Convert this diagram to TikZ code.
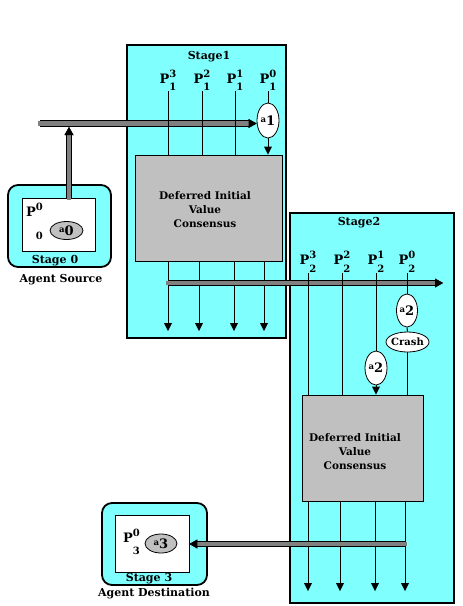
\documentclass[tikz,border=0pt]{standalone}
\usepackage{fontspec}
\setmainfont{DejaVu Serif}
\usetikzlibrary{arrows.meta,shapes.geometric}
\definecolor{cyanbg}{RGB}{128,255,255}
\definecolor{boxgray}{RGB}{192,192,192}
\definecolor{bargray}{RGB}{128,128,128}
\newcommand\supsz{\fontsize{10}{10}\selectfont}
\newcommand\Plab[3]{P\rlap{\raisebox{6pt}{\supsz #1}}\raisebox{-#3}{\supsz #2}}
\newcommand\alab[1]{\raisebox{3pt}{\fontsize{8.5}{9}\selectfont\bfseries a}{\fontsize{13}{13}\selectfont\bfseries #1}}
\begin{document}
\begin{tikzpicture}[x=1pt,y=-1pt,
  stagebox/.style={draw=black,line width=1.8pt,fill=cyanbg,inner sep=0pt},
  roundstage/.style={stagebox,rounded corners=10pt},
  whitebox/.style={draw=black,line width=0.8pt,fill=white,inner sep=0pt},
  consbox/.style={draw=black,line width=1pt,fill=boxgray,inner sep=0pt},
  agent/.style={ellipse,draw=black,line width=0.8pt,fill=white,inner sep=0pt},
  agentg/.style={agent,fill=boxgray},
  wire/.style={draw=black,line width=1pt},
  arr/.style={wire,-{Triangle[length=8pt,width=8pt,line width=0pt]}},
  bar/.style={draw=bargray,line width=4.5pt,line cap=rect,
    preaction={draw=black,line width=6.5pt},
    -{Triangle[length=8pt,width=9pt,color=black,line width=0pt]}},
  lbl/.style={font=\fontsize{11}{12}\selectfont\bfseries,inner sep=0pt,anchor=base},
  txt/.style={font=\fontsize{10.5}{14}\selectfont\bfseries,align=center,inner sep=0pt},
  plab/.style={font=\fontsize{13}{13}\selectfont\bfseries,inner sep=0pt},
  crashlbl/.style={font=\fontsize{10}{10}\selectfont\bfseries}
]
\useasboundingbox (0,0) rectangle (463,606);

% stage backgrounds
\node[stagebox,minimum width=159,minimum height=293] (s1) at (206.5,191.5) {};
\node[stagebox,minimum width=164,minimum height=390] (s2) at (372,408) {};
\node[roundstage,minimum width=103,minimum height=82] (s0) at (59.5,226) {};
\node[whitebox,minimum width=73,minimum height=53] (w0) at (58.5,224.5) {};
\node[roundstage,minimum width=105,minimum height=82] (s3) at (154.5,544) {};
\node[whitebox,minimum width=74,minimum height=57] (w3) at (152,543.5) {};

% consensus boxes
\node[consbox,minimum width=147,minimum height=106] (g1) at (208.5,208) {};
\node[txt] (t1) at (205,210) {Deferred Initial\\Value\\Consensus};
\node[consbox,minimum width=121,minimum height=106] (g2) at (362.5,448) {};
\node[txt] (t2) at (355,452) {Deferred Initial\\Value\\Consensus};

% labels
\node[lbl] (st1) at (209,59.5) {Stage1};
\node[lbl] (st2) at (359,225) {Stage2};
\node[lbl] (st0) at (55,263) {Stage 0};
\node[lbl] (as) at (61,282) {Agent Source};
\node[lbl] (st3) at (149,581) {Stage 3};
\node[lbl] (ad) at (154,596) {Agent Destination};

% process labels
\node[plab,anchor=south] (pA3) at (168,91) {\Plab{3}{1}{7pt}};
\node[plab,anchor=south] (pA2) at (202,91) {\Plab{2}{1}{7pt}};
\node[plab,anchor=south] (pA1) at (235,91) {\Plab{1}{1}{7pt}};
\node[plab,anchor=south] (pA0) at (268,91) {\Plab{0}{1}{7pt}};
\node[plab,anchor=south] (pB3) at (308,273) {\Plab{3}{2}{8pt}};
\node[plab,anchor=south] (pB2) at (342,273) {\Plab{2}{2}{8pt}};
\node[plab,anchor=south] (pB1) at (376,273) {\Plab{1}{2}{8pt}};
\node[plab,anchor=south] (pB0) at (407,273) {\Plab{0}{2}{8pt}};
\node[plab,anchor=south west] (p00) at (26,240) {\Plab{0}{0}{23pt}};
\node[plab,anchor=south west] (p03) at (123,555) {\Plab{0}{3}{12pt}};

% agents
\node[agent,minimum width=22,minimum height=35] (a1) at (268,120.5) {\alab{1}};
\node[agentg,minimum width=33,minimum height=18,inner xsep=-2pt,inner ysep=-2pt] (a0) at (66.5,230.5) {\alab{0}};
\node[agent,minimum width=21,minimum height=33] (a2u) at (407,310.5) {\alab{2}};
\node[agent,minimum width=43,minimum height=20,inner xsep=-3pt,crashlbl] (cr) at (407.5,342) {Crash};
\node[agent,minimum width=22,minimum height=34] (a2l) at (376,368) {\alab{2}};
\node[agentg,minimum width=32,minimum height=19,inner xsep=-2pt,inner ysep=-2pt] (a3) at (161,543.5) {\alab{3}};

% top bar and agent source bar
\coordinate (tbL) at (40,123.5);
\draw[bar] (tbL) -- (tbL -| a1.west);
\coordinate (vb) at (69,127);
\draw[bar] (w0.north -| vb) -- (vb);

% stage 1 wires above
\foreach \n in {pA3,pA2,pA1} \draw[wire] (\n.south) -- (\n.south |- g1.north);
\draw[wire] (pA0.south) -- (a1.north);
\draw[arr] (a1.south) -- (a1.south |- g1.north);

% stage 1 wires below
\foreach \x/\n in {168/b13,199/b12,234/b11,264/b10} {
  \coordinate (\n) at (\x,331);
  \draw[arr] (\n |- g1.south) -- (\n);
}

% bar from stage 1 to stage 2
\coordinate (b2s) at (168,283);
\coordinate (b2e) at (443,283);
\draw[bar] (b2s) -- (b2e);

% stage 2 wires above
\foreach \n in {pB3,pB2} \draw[wire] (\n.south) -- (\n.south |- g2.north);
\draw[wire] (pB1.south) -- (a2l.north);
\draw[arr] (a2l.south) -- (a2l.south |- g2.north);
\draw[wire] (pB0.south) -- (a2u.north);
\draw[wire] (a2u.south) -- (cr.north);
\draw[wire] (cr.south) -- (cr.south |- g2.north);

% stage 2 wires below
\foreach \x/\n in {308/b23,340/b22,375/b21,405/b20} {
  \coordinate (\n) at (\x,591);
  \draw[arr] (\n |- g2.south) -- (\n);
}

% bar to destination
\coordinate (lbs) at (405,544);
\draw[bar] (lbs) -- (lbs -| w3.east);
\end{tikzpicture}
\end{document}
